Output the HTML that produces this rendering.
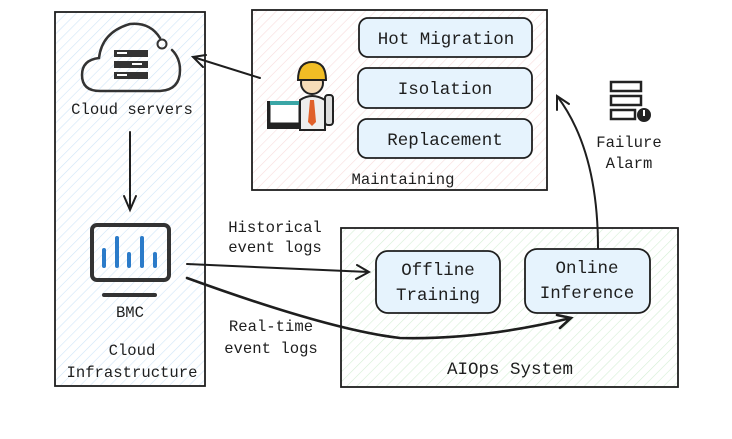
<!DOCTYPE html>
<html><head><meta charset="utf-8"><style>
body{margin:0;background:#fff;width:732px;height:434px;overflow:hidden}
text{font-family:"Liberation Mono",monospace;font-size:15.6px;fill:#1e1e1e}
.b{font-size:17.5px}
</style></head><body>
<svg width="732" height="434" xmlns="http://www.w3.org/2000/svg">
<defs>
<pattern id="hb" width="7" height="7" patternUnits="userSpaceOnUse" patternTransform="rotate(45)"><line x1="0" y1="0" x2="0" y2="7" stroke="#cfe5f7" stroke-width="1.2"/></pattern>
<pattern id="hr" width="7" height="7" patternUnits="userSpaceOnUse" patternTransform="rotate(45)"><line x1="0" y1="0" x2="0" y2="7" stroke="#f8dcdc" stroke-width="1.2"/></pattern>
<pattern id="hg" width="7" height="7" patternUnits="userSpaceOnUse" patternTransform="rotate(45)"><line x1="0" y1="0" x2="0" y2="7" stroke="#d5efd5" stroke-width="1.2"/></pattern>
</defs>
<g stroke="#1e1e1e" stroke-width="1.8">
<rect x="55" y="12" width="150" height="374" fill="url(#hb)"/>
<rect x="252" y="10" width="295" height="180" fill="url(#hr)"/>
<rect x="341" y="228" width="337" height="159" fill="url(#hg)"/>
<rect x="359" y="18" width="173" height="39" rx="9" fill="#e6f3fd"/>
<rect x="358" y="68" width="174" height="40" rx="9" fill="#e6f3fd"/>
<rect x="358" y="119" width="174" height="39" rx="9" fill="#e6f3fd"/>
<rect x="376" y="251" width="124" height="62" rx="12" fill="#e6f3fd"/>
<rect x="525" y="249" width="125" height="64" rx="12" fill="#e6f3fd"/>
</g>
<text class="b" x="446" y="44" text-anchor="middle">Hot Migration</text>
<text class="b" x="445" y="94" text-anchor="middle">Isolation</text>
<text class="b" x="445" y="145" text-anchor="middle">Replacement</text>
<text x="403" y="184" text-anchor="middle">Maintaining</text>
<text class="b" x="438" y="275" text-anchor="middle">Offline</text>
<text class="b" x="438" y="300" text-anchor="middle">Training</text>
<text class="b" x="587" y="273" text-anchor="middle">Online</text>
<text class="b" x="587" y="298" text-anchor="middle">Inference</text>
<text class="b" x="510" y="374" text-anchor="middle">AIOps System</text>
<text x="629" y="147" text-anchor="middle">Failure</text>
<text x="629" y="168" text-anchor="middle">Alarm</text>
<text x="132" y="114" text-anchor="middle">Cloud servers</text>
<text x="130" y="317" text-anchor="middle">BMC</text>
<text x="132" y="355" text-anchor="middle">Cloud</text>
<text x="132" y="377" text-anchor="middle">Infrastructure</text>
<text x="275" y="232" text-anchor="middle">Historical</text>
<text x="275" y="252" text-anchor="middle">event logs</text>
<text x="271" y="331" text-anchor="middle">Real-time</text>
<text x="271" y="353" text-anchor="middle">event logs</text>
<!-- cloud icon -->
<path d="M172,50 Q180,58 180,70 Q180,90 160,91 L100,91 Q82,91 82,75 Q82,60 99,58 Q102,32 130,24 Q150,22 160,38" fill="none" stroke="#333" stroke-width="2.5" stroke-linecap="round"/>
<circle cx="162" cy="44" r="4.5" fill="none" stroke="#333" stroke-width="2"/>
<rect x="114" y="50" width="34" height="7" fill="#333"/><rect x="114" y="61" width="34" height="7" fill="#333"/><rect x="114" y="72" width="34" height="7" fill="#333"/>
<rect x="117" y="52" width="10" height="2" fill="#fff"/><rect x="132" y="63" width="10" height="2" fill="#fff"/><rect x="117" y="74" width="10" height="2" fill="#fff"/>
<!-- BMC monitor -->
<rect x="92" y="225" width="77" height="55" rx="5" fill="none" stroke="#333" stroke-width="4"/>
<rect x="102" y="293" width="55" height="4" rx="2" fill="#333"/>
<g stroke="#2b7bc9" stroke-width="4" stroke-linecap="round"><line x1="104" y1="250" x2="104" y2="266"/><line x1="117" y1="238" x2="117" y2="266"/><line x1="129" y1="254" x2="129" y2="266"/><line x1="142" y1="238" x2="142" y2="266"/><line x1="155" y1="254" x2="155" y2="266"/></g>
<!-- alarm icon -->
<g fill="none" stroke="#222" stroke-width="2.5"><rect x="611" y="82" width="30" height="9"/><rect x="611" y="96" width="30" height="9"/><rect x="611" y="110" width="24" height="9"/></g>
<circle cx="644" cy="115" r="7" fill="#222"/><rect x="643" y="110" width="2" height="6" fill="#fff"/>
<!-- worker -->
<rect x="267" y="101" width="35" height="28" fill="#222"/><rect x="270" y="103" width="29" height="20" fill="#fff" stroke="#222"/><rect x="270" y="101" width="29" height="4" fill="#3aa6a6"/>
<path d="M300,130 L300,100 Q312,92 325,100 L325,130Z" fill="#eee" stroke="#222" stroke-width="2"/>
<path d="M310,100 L314,100 L316,122 L312,126 L308,122Z" fill="#e0602a"/>
<circle cx="312" cy="83" r="11" fill="#f6dcb8" stroke="#222" stroke-width="2"/>
<path d="M298,80 Q298,62 312,62 Q326,62 326,80Z" fill="#f1bd25" stroke="#222" stroke-width="2"/>
<rect x="325" y="95" width="8" height="30" rx="3" fill="#ddd" stroke="#222" stroke-width="2"/>
<!-- arrows -->
<g fill="none" stroke="#1e1e1e" stroke-width="2" stroke-linecap="round">
<path d="M260,78 L193,57 M206,55 L193,57 L203,67"/>
<path d="M130,132 L130,210 M124,196 L130,210 L136,196"/>
<path d="M187,264 L369,272 M357,265 L369,272 L356,279"/>
<path d="M187,278 Q330,330 400,338 Q480,340 571,318 M557,315 L571,318 L560,328" stroke-width="2.6"/>
<path d="M598,248 Q598,150 557,96 M557,110 L557,96 L569,104"/>
</g>
</svg>
</body></html>
